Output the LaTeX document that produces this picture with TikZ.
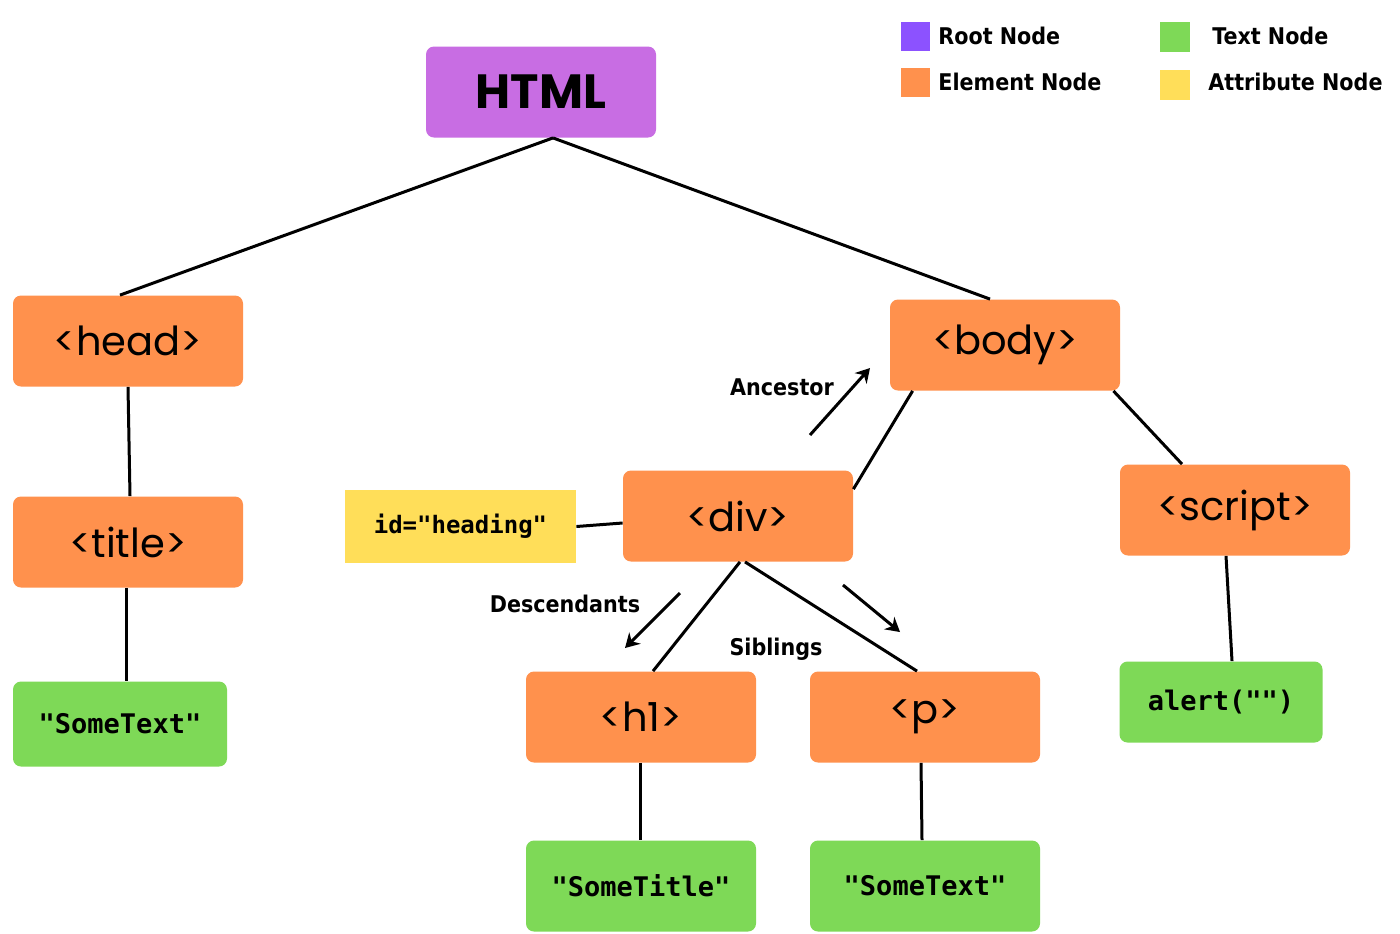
\documentclass[tikz,border=0pt]{standalone}
\usepackage{fontspec}
\usetikzlibrary{arrows.meta}
\setmainfont{Poppins}
\newfontfamily\monof{DejaVu Sans Mono}
\newfontfamily\condf{DejaVu Sans Condensed}
\definecolor{orn}{HTML}{FF914D}
\definecolor{pur}{HTML}{C86DE3}
\definecolor{grn}{HTML}{7ED957}
\definecolor{yel}{HTML}{FFDE59}
\definecolor{lpur}{HTML}{8C52FF}
\begin{document}
\begin{tikzpicture}[x=0.5pt,y=-0.5pt,
  box/.style={rounded corners=4pt,inner sep=0pt,minimum width=115pt,minimum height=45.5pt},
  el/.style={box,fill=orn,font=\fontsize{20}{24}\selectfont},
  tx/.style={box,fill=grn,font=\monof\bfseries\fontsize{13.5}{16}\selectfont},
  ln/.style={line width=1.5pt},
  ar/.style={line width=1.5pt,-{Stealth[length=7pt,width=8pt]}},
  lab/.style={font=\condf\bfseries\fontsize{11.5}{14}\selectfont},
  lg/.style={font=\condf\bfseries\fontsize{11.5}{14}\selectfont,anchor=west,inner sep=0pt}]
\useasboundingbox[fill=white] (0,0) rectangle (1400,933);
\node[box,fill=pur,font=\bfseries\fontsize{24}{28}\selectfont] (html) at (541,92) {HTML};
\node[el] (head) at (128,341) {<head>};
\node[el] (title) at (128,542) {<title>};
\node[tx,minimum width=107pt,minimum height=42.5pt] (st1) at (120,724) {"SomeText"};
\node[el] (body) at (1005,345) {<body>};
\node[el] (div) at (738,516) {<div>};
\node[fill=yel,inner sep=0pt,minimum width=115.5pt,minimum height=36.5pt,font=\monof\bfseries\fontsize{12}{14}\selectfont] (id) at (460.5,526.5) {id="heading"};
\node[el] (script) at (1235,510) {<script>};
\node[tx,minimum width=101.5pt,minimum height=40.5pt] (alert) at (1221,702) {alert("")};
\node[el] (h1) at (641,717) {<h1>};
\node[el] (p) at (925,717) {<p>};
\node[tx] (stt) at (641,886) {"SomeTitle"};
\node[tx] (st2) at (925,886) {"SomeText"};
\draw[ln] ([xshift=6pt]html.south) -- ([xshift=-4pt]head.north);
\draw[ln] ([xshift=6pt]html.south) -- ([xshift=-7.5pt]body.north);
\draw[ln] (head.south) -- ([xshift=1pt]title.north);
\draw[ln] ([xshift=-1pt]title.south) -- ([xshift=3pt]st1.north);
\draw[ln] ([xshift=11.5pt]body.south west) -- ([yshift=-9.5pt]div.north east);
\draw[ln] ([xshift=-3.5pt]body.south east) -- ([xshift=-26.5pt]script.north);
\draw[ln] (id.east) -- ([yshift=-3.5pt]div.west);
\draw[ln] ([xshift=1pt]div.south) -- ([xshift=6pt]h1.north);
\draw[ln] ([xshift=3.5pt]div.south) -- ([xshift=-4pt]p.north);
\draw[ln] ([xshift=-4.5pt]script.south) -- ([xshift=5.5pt]alert.north);
\draw[ln] ([xshift=-0.5pt]h1.south) -- ([xshift=-0.5pt]stt.north);
\draw[ln] ([xshift=-2pt]p.south) -- ([xshift=-1.5pt]st2.north);
\coordinate (a1) at (810,435); \coordinate (a2) at (870,368);
\coordinate (d1) at (680,593); \coordinate (d2) at (625,648);
\coordinate (s1) at (843,585); \coordinate (s2) at (900,632);
\draw[ar] (a1) -- (a2);
\draw[ar] (d1) -- (d2);
\draw[ar] (s1) -- (s2);
\node[lab] (lanc) at (782,387) {Ancestor};
\node[lab] (ldes) at (565,604) {Descendants};
\node[lab] (lsib) at (776,649) {Siblings};
\fill[lpur] (901,22) rectangle (930,51);
\fill[orn] (901,68) rectangle (930,97);
\fill[grn] (1160,22) rectangle (1190,52);
\fill[yel] (1160,70) rectangle (1190,100);
\node[lg] (l1) at (938,36) {Root Node};
\node[lg] (l2) at (938,82) {Element Node};
\node[lg] (l3) at (1212,36) {Text Node};
\node[lg] (l4) at (1208,82) {Attribute Node};
\end{tikzpicture}
\end{document}
